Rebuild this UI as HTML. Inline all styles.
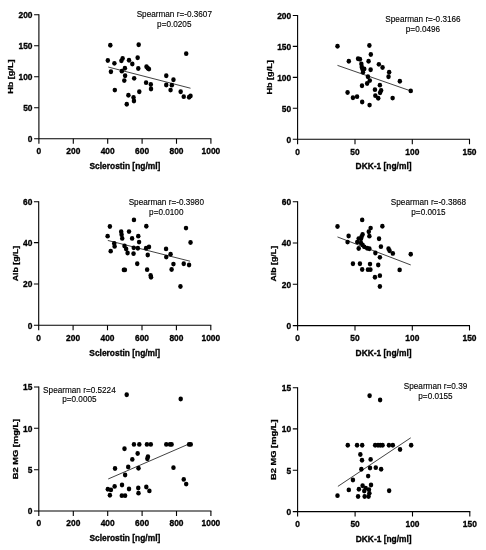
<!DOCTYPE html>
<html><head><meta charset="utf-8"><title>Scatter plots</title>
<style>
html,body{margin:0;padding:0;background:#fff;}
svg{display:block}
.t{font-family:"Liberation Sans",Arial,sans-serif;font-weight:bold;font-size:8.4px;fill:#000;stroke:#000;stroke-width:0.3px}
.a{font-family:"Liberation Sans",Arial,sans-serif;font-size:8.2px;fill:#000;stroke:#000;stroke-width:0.12px}
ellipse{fill:#000}
</style></head><body>
<svg width="486" height="550" viewBox="0 0 486 550">
<rect width="486" height="550" fill="#fff"/>
<path d="M38.90 14.20V139.20M38.40 138.70H211.40" stroke="#000" stroke-width="1.1" fill="none"/>
<text class="t" text-anchor="end" transform="translate(32.50 18.10) scale(1,1.17)">200</text>
<text class="t" text-anchor="end" transform="translate(32.50 49.10) scale(1,1.17)">150</text>
<text class="t" text-anchor="end" transform="translate(32.50 80.10) scale(1,1.17)">100</text>
<text class="t" text-anchor="end" transform="translate(32.50 111.10) scale(1,1.17)">50</text>
<text class="t" text-anchor="end" transform="translate(32.50 142.10) scale(1,1.17)">0</text>
<text class="t" text-anchor="middle" transform="translate(38.90 153.70) scale(1,1.17)">0</text>
<text class="t" text-anchor="middle" transform="translate(73.30 153.70) scale(1,1.17)">200</text>
<text class="t" text-anchor="middle" transform="translate(107.70 153.70) scale(1,1.17)">400</text>
<text class="t" text-anchor="middle" transform="translate(142.10 153.70) scale(1,1.17)">600</text>
<text class="t" text-anchor="middle" transform="translate(176.50 153.70) scale(1,1.17)">800</text>
<text class="t" text-anchor="middle" transform="translate(210.90 153.70) scale(1,1.17)">1000</text>
<path d="M34.10 14.70H38.90M34.10 45.70H38.90M34.10 76.70H38.90M34.10 107.70H38.90M34.10 138.70H38.90M38.90 138.70V143.70M73.30 138.70V143.70M107.70 138.70V143.70M142.10 138.70V143.70M176.50 138.70V143.70M210.90 138.70V143.70" stroke="#000" stroke-width="1.1" fill="none"/>
<text class="t" text-anchor="middle" transform="translate(12.80 76.70) scale(0.95,1.085) rotate(-90)">Hb [g/L]</text>
<text class="t" text-anchor="middle" transform="translate(124.90 168.70) scale(1,1.17)">Sclerostin [ng/ml]</text>
<line x1="108.23" y1="67.04" x2="190.53" y2="88.23" stroke="#111" stroke-width="0.8"/>
<ellipse cx="110.29" cy="45.23" rx="2.25" ry="2.45"/><ellipse cx="138.68" cy="44.81" rx="2.25" ry="2.45"/><ellipse cx="186.21" cy="53.66" rx="2.25" ry="2.45"/><ellipse cx="107.82" cy="60.45" rx="2.25" ry="2.45"/><ellipse cx="114.40" cy="63.33" rx="2.25" ry="2.45"/><ellipse cx="121.40" cy="60.86" rx="2.25" ry="2.45"/><ellipse cx="122.63" cy="58.40" rx="2.25" ry="2.45"/><ellipse cx="129.01" cy="60.25" rx="2.25" ry="2.45"/><ellipse cx="132.30" cy="63.95" rx="2.25" ry="2.45"/><ellipse cx="137.65" cy="57.78" rx="2.25" ry="2.45"/><ellipse cx="138.27" cy="68.48" rx="2.25" ry="2.45"/><ellipse cx="124.90" cy="68.27" rx="2.25" ry="2.45"/><ellipse cx="121.81" cy="71.15" rx="2.25" ry="2.45"/><ellipse cx="110.91" cy="71.77" rx="2.25" ry="2.45"/><ellipse cx="125.10" cy="75.68" rx="2.25" ry="2.45"/><ellipse cx="124.28" cy="80.62" rx="2.25" ry="2.45"/><ellipse cx="134.16" cy="78.35" rx="2.25" ry="2.45"/><ellipse cx="146.50" cy="66.63" rx="2.25" ry="2.45"/><ellipse cx="147.74" cy="68.27" rx="2.25" ry="2.45"/><ellipse cx="148.97" cy="69.09" rx="2.25" ry="2.45"/><ellipse cx="146.09" cy="82.67" rx="2.25" ry="2.45"/><ellipse cx="150.82" cy="84.53" rx="2.25" ry="2.45"/><ellipse cx="151.03" cy="89.05" rx="2.25" ry="2.45"/><ellipse cx="166.26" cy="75.68" rx="2.25" ry="2.45"/><ellipse cx="173.46" cy="79.79" rx="2.25" ry="2.45"/><ellipse cx="166.26" cy="84.94" rx="2.25" ry="2.45"/><ellipse cx="171.81" cy="85.14" rx="2.25" ry="2.45"/><ellipse cx="170.58" cy="90.08" rx="2.25" ry="2.45"/><ellipse cx="114.81" cy="90.08" rx="2.25" ry="2.45"/><ellipse cx="139.30" cy="91.73" rx="2.25" ry="2.45"/><ellipse cx="128.40" cy="95.23" rx="2.25" ry="2.45"/><ellipse cx="133.54" cy="97.49" rx="2.25" ry="2.45"/><ellipse cx="133.95" cy="100.99" rx="2.25" ry="2.45"/><ellipse cx="126.75" cy="104.28" rx="2.25" ry="2.45"/><ellipse cx="180.66" cy="91.73" rx="2.25" ry="2.45"/><ellipse cx="183.74" cy="96.67" rx="2.25" ry="2.45"/><ellipse cx="189.09" cy="97.28" rx="2.25" ry="2.45"/><ellipse cx="190.53" cy="96.05" rx="2.25" ry="2.45"/>
<text class="a" text-anchor="middle" transform="translate(174.30 17.25) scale(1,1.17)">Spearman r=-0.3607</text>
<text class="a" text-anchor="middle" transform="translate(174.30 27.10) scale(1,1.17)">p=0.0205</text>
<path d="M297.60 15.00V139.80M297.10 139.30H470.00" stroke="#000" stroke-width="1.1" fill="none"/>
<text class="t" text-anchor="end" transform="translate(291.20 18.90) scale(1,1.17)">200</text>
<text class="t" text-anchor="end" transform="translate(291.20 49.80) scale(1,1.17)">150</text>
<text class="t" text-anchor="end" transform="translate(291.20 80.80) scale(1,1.17)">100</text>
<text class="t" text-anchor="end" transform="translate(291.20 111.70) scale(1,1.17)">50</text>
<text class="t" text-anchor="end" transform="translate(291.20 142.70) scale(1,1.17)">0</text>
<text class="t" text-anchor="middle" transform="translate(297.60 154.80) scale(1,1.17)">0</text>
<text class="t" text-anchor="middle" transform="translate(355.00 154.80) scale(1,1.17)">50</text>
<text class="t" text-anchor="middle" transform="translate(412.30 154.80) scale(1,1.17)">100</text>
<text class="t" text-anchor="middle" transform="translate(469.50 154.80) scale(1,1.17)">150</text>
<path d="M292.80 15.50H297.60M292.80 46.40H297.60M292.80 77.40H297.60M292.80 108.30H297.60M292.80 139.30H297.60M297.60 139.30V144.30M355.00 139.30V144.30M412.30 139.30V144.30M469.50 139.30V144.30" stroke="#000" stroke-width="1.1" fill="none"/>
<text class="t" text-anchor="middle" transform="translate(272.00 77.40) scale(0.95,1.085) rotate(-90)">Hb [g/L]</text>
<text class="t" text-anchor="middle" transform="translate(383.55 169.20) scale(1,1.17)">DKK-1 [ng/ml]</text>
<line x1="337.49" y1="65.39" x2="410.74" y2="90.91" stroke="#111" stroke-width="0.8"/>
<ellipse cx="337.49" cy="46.26" rx="2.25" ry="2.45"/><ellipse cx="369.38" cy="45.43" rx="2.25" ry="2.45"/><ellipse cx="370.82" cy="54.49" rx="2.25" ry="2.45"/><ellipse cx="348.81" cy="61.28" rx="2.25" ry="2.45"/><ellipse cx="358.07" cy="58.81" rx="2.25" ry="2.45"/><ellipse cx="359.92" cy="59.22" rx="2.25" ry="2.45"/><ellipse cx="368.56" cy="61.28" rx="2.25" ry="2.45"/><ellipse cx="361.36" cy="63.95" rx="2.25" ry="2.45"/><ellipse cx="361.77" cy="67.04" rx="2.25" ry="2.45"/><ellipse cx="362.39" cy="69.09" rx="2.25" ry="2.45"/><ellipse cx="364.24" cy="68.89" rx="2.25" ry="2.45"/><ellipse cx="363.00" cy="72.18" rx="2.25" ry="2.45"/><ellipse cx="370.62" cy="69.71" rx="2.25" ry="2.45"/><ellipse cx="378.85" cy="64.36" rx="2.25" ry="2.45"/><ellipse cx="382.55" cy="67.45" rx="2.25" ry="2.45"/><ellipse cx="389.14" cy="72.18" rx="2.25" ry="2.45"/><ellipse cx="388.52" cy="76.71" rx="2.25" ry="2.45"/><ellipse cx="367.94" cy="76.71" rx="2.25" ry="2.45"/><ellipse cx="369.79" cy="80.62" rx="2.25" ry="2.45"/><ellipse cx="367.12" cy="83.50" rx="2.25" ry="2.45"/><ellipse cx="361.98" cy="85.76" rx="2.25" ry="2.45"/><ellipse cx="399.84" cy="81.23" rx="2.25" ry="2.45"/><ellipse cx="410.74" cy="90.91" rx="2.25" ry="2.45"/><ellipse cx="379.88" cy="85.14" rx="2.25" ry="2.45"/><ellipse cx="374.94" cy="89.67" rx="2.25" ry="2.45"/><ellipse cx="381.11" cy="90.49" rx="2.25" ry="2.45"/><ellipse cx="380.08" cy="92.76" rx="2.25" ry="2.45"/><ellipse cx="375.35" cy="95.64" rx="2.25" ry="2.45"/><ellipse cx="378.23" cy="98.31" rx="2.25" ry="2.45"/><ellipse cx="392.63" cy="98.11" rx="2.25" ry="2.45"/><ellipse cx="347.57" cy="92.55" rx="2.25" ry="2.45"/><ellipse cx="352.92" cy="97.70" rx="2.25" ry="2.45"/><ellipse cx="357.04" cy="96.67" rx="2.25" ry="2.45"/><ellipse cx="362.18" cy="102.02" rx="2.25" ry="2.45"/><ellipse cx="369.59" cy="105.10" rx="2.25" ry="2.45"/>
<text class="a" text-anchor="middle" transform="translate(423.00 21.75) scale(1,1.17)">Spearman r=-0.3166</text>
<text class="a" text-anchor="middle" transform="translate(423.00 31.60) scale(1,1.17)">p=0.0496</text>
<path d="M38.70 201.30V325.80M38.20 325.30H211.30" stroke="#000" stroke-width="1.1" fill="none"/>
<text class="t" text-anchor="end" transform="translate(32.30 205.20) scale(1,1.17)">60</text>
<text class="t" text-anchor="end" transform="translate(32.30 246.00) scale(1,1.17)">40</text>
<text class="t" text-anchor="end" transform="translate(32.30 287.40) scale(1,1.17)">20</text>
<text class="t" text-anchor="end" transform="translate(32.30 328.70) scale(1,1.17)">0</text>
<text class="t" text-anchor="middle" transform="translate(38.70 340.80) scale(1,1.17)">0</text>
<text class="t" text-anchor="middle" transform="translate(73.10 340.80) scale(1,1.17)">200</text>
<text class="t" text-anchor="middle" transform="translate(107.50 340.80) scale(1,1.17)">400</text>
<text class="t" text-anchor="middle" transform="translate(142.00 340.80) scale(1,1.17)">600</text>
<text class="t" text-anchor="middle" transform="translate(176.40 340.80) scale(1,1.17)">800</text>
<text class="t" text-anchor="middle" transform="translate(210.80 340.80) scale(1,1.17)">1000</text>
<path d="M33.90 201.80H38.70M33.90 242.60H38.70M33.90 284.00H38.70M33.90 325.30H38.70M38.70 325.30V330.30M73.10 325.30V330.30M107.50 325.30V330.30M142.00 325.30V330.30M176.40 325.30V330.30M210.80 325.30V330.30" stroke="#000" stroke-width="1.1" fill="none"/>
<text class="t" text-anchor="middle" transform="translate(17.60 263.55) scale(0.95,1.045) rotate(-90)">Alb [g/L]</text>
<text class="t" text-anchor="middle" transform="translate(124.75 355.70) scale(1,1.17)">Sclerostin [ng/ml]</text>
<line x1="107.82" y1="240.45" x2="190.12" y2="261.23" stroke="#111" stroke-width="0.8"/>
<ellipse cx="133.95" cy="219.88" rx="2.25" ry="2.45"/><ellipse cx="109.88" cy="226.46" rx="2.25" ry="2.45"/><ellipse cx="146.30" cy="226.26" rx="2.25" ry="2.45"/><ellipse cx="186.01" cy="228.11" rx="2.25" ry="2.45"/><ellipse cx="107.61" cy="236.13" rx="2.25" ry="2.45"/><ellipse cx="121.19" cy="231.81" rx="2.25" ry="2.45"/><ellipse cx="121.60" cy="234.69" rx="2.25" ry="2.45"/><ellipse cx="129.01" cy="231.60" rx="2.25" ry="2.45"/><ellipse cx="122.22" cy="238.40" rx="2.25" ry="2.45"/><ellipse cx="132.10" cy="238.40" rx="2.25" ry="2.45"/><ellipse cx="138.27" cy="236.13" rx="2.25" ry="2.45"/><ellipse cx="139.09" cy="242.10" rx="2.25" ry="2.45"/><ellipse cx="190.53" cy="242.51" rx="2.25" ry="2.45"/><ellipse cx="114.20" cy="243.54" rx="2.25" ry="2.45"/><ellipse cx="114.61" cy="246.42" rx="2.25" ry="2.45"/><ellipse cx="124.49" cy="246.01" rx="2.25" ry="2.45"/><ellipse cx="126.13" cy="248.89" rx="2.25" ry="2.45"/><ellipse cx="110.70" cy="251.15" rx="2.25" ry="2.45"/><ellipse cx="127.57" cy="253.00" rx="2.25" ry="2.45"/><ellipse cx="133.74" cy="247.86" rx="2.25" ry="2.45"/><ellipse cx="133.54" cy="253.62" rx="2.25" ry="2.45"/><ellipse cx="137.86" cy="248.27" rx="2.25" ry="2.45"/><ellipse cx="146.09" cy="248.27" rx="2.25" ry="2.45"/><ellipse cx="148.97" cy="247.04" rx="2.25" ry="2.45"/><ellipse cx="147.74" cy="255.06" rx="2.25" ry="2.45"/><ellipse cx="166.05" cy="248.89" rx="2.25" ry="2.45"/><ellipse cx="170.58" cy="254.24" rx="2.25" ry="2.45"/><ellipse cx="166.26" cy="257.12" rx="2.25" ry="2.45"/><ellipse cx="137.24" cy="263.70" rx="2.25" ry="2.45"/><ellipse cx="173.46" cy="264.12" rx="2.25" ry="2.45"/><ellipse cx="183.74" cy="263.70" rx="2.25" ry="2.45"/><ellipse cx="189.09" cy="264.94" rx="2.25" ry="2.45"/><ellipse cx="123.87" cy="269.88" rx="2.25" ry="2.45"/><ellipse cx="124.90" cy="269.88" rx="2.25" ry="2.45"/><ellipse cx="147.12" cy="269.67" rx="2.25" ry="2.45"/><ellipse cx="171.60" cy="269.47" rx="2.25" ry="2.45"/><ellipse cx="150.62" cy="275.43" rx="2.25" ry="2.45"/><ellipse cx="151.03" cy="277.28" rx="2.25" ry="2.45"/><ellipse cx="180.45" cy="286.54" rx="2.25" ry="2.45"/>
<text class="a" text-anchor="middle" transform="translate(166.30 205.30) scale(1,1.17)">Spearman r=-0.3980</text>
<text class="a" text-anchor="middle" transform="translate(166.30 215.15) scale(1,1.17)">p=0.0100</text>
<path d="M297.60 201.30V326.10M297.10 325.60H470.00" stroke="#000" stroke-width="1.1" fill="none"/>
<text class="t" text-anchor="end" transform="translate(291.20 205.20) scale(1,1.17)">60</text>
<text class="t" text-anchor="end" transform="translate(291.20 246.40) scale(1,1.17)">40</text>
<text class="t" text-anchor="end" transform="translate(291.20 287.70) scale(1,1.17)">20</text>
<text class="t" text-anchor="end" transform="translate(291.20 329.00) scale(1,1.17)">0</text>
<text class="t" text-anchor="middle" transform="translate(297.60 340.80) scale(1,1.17)">0</text>
<text class="t" text-anchor="middle" transform="translate(355.00 340.80) scale(1,1.17)">50</text>
<text class="t" text-anchor="middle" transform="translate(412.30 340.80) scale(1,1.17)">100</text>
<text class="t" text-anchor="middle" transform="translate(469.50 340.80) scale(1,1.17)">150</text>
<path d="M292.80 201.80H297.60M292.80 243.00H297.60M292.80 284.30H297.60M292.80 325.60H297.60M297.60 325.60V330.60M355.00 325.60V330.60M412.30 325.60V330.60M469.50 325.60V330.60" stroke="#000" stroke-width="1.1" fill="none"/>
<text class="t" text-anchor="middle" transform="translate(276.40 263.70) scale(0.95,1.045) rotate(-90)">Alb [g/L]</text>
<text class="t" text-anchor="middle" transform="translate(383.55 355.70) scale(1,1.17)">DKK-1 [ng/ml]</text>
<line x1="337.49" y1="236.95" x2="410.74" y2="264.94" stroke="#111" stroke-width="0.8"/>
<ellipse cx="362.18" cy="219.88" rx="2.25" ry="2.45"/><ellipse cx="337.49" cy="226.46" rx="2.25" ry="2.45"/><ellipse cx="382.35" cy="226.26" rx="2.25" ry="2.45"/><ellipse cx="370.62" cy="228.11" rx="2.25" ry="2.45"/><ellipse cx="368.77" cy="231.81" rx="2.25" ry="2.45"/><ellipse cx="362.59" cy="234.49" rx="2.25" ry="2.45"/><ellipse cx="369.38" cy="236.13" rx="2.25" ry="2.45"/><ellipse cx="348.60" cy="235.93" rx="2.25" ry="2.45"/><ellipse cx="361.56" cy="236.75" rx="2.25" ry="2.45"/><ellipse cx="358.68" cy="238.60" rx="2.25" ry="2.45"/><ellipse cx="379.05" cy="238.81" rx="2.25" ry="2.45"/><ellipse cx="347.57" cy="242.10" rx="2.25" ry="2.45"/><ellipse cx="357.24" cy="242.10" rx="2.25" ry="2.45"/><ellipse cx="360.95" cy="242.92" rx="2.25" ry="2.45"/><ellipse cx="362.59" cy="244.98" rx="2.25" ry="2.45"/><ellipse cx="364.24" cy="246.83" rx="2.25" ry="2.45"/><ellipse cx="358.68" cy="248.48" rx="2.25" ry="2.45"/><ellipse cx="367.12" cy="248.27" rx="2.25" ry="2.45"/><ellipse cx="369.38" cy="248.68" rx="2.25" ry="2.45"/><ellipse cx="380.91" cy="246.63" rx="2.25" ry="2.45"/><ellipse cx="388.52" cy="248.68" rx="2.25" ry="2.45"/><ellipse cx="389.55" cy="250.74" rx="2.25" ry="2.45"/><ellipse cx="392.84" cy="253.42" rx="2.25" ry="2.45"/><ellipse cx="375.35" cy="253.00" rx="2.25" ry="2.45"/><ellipse cx="379.88" cy="257.33" rx="2.25" ry="2.45"/><ellipse cx="410.74" cy="254.24" rx="2.25" ry="2.45"/><ellipse cx="352.92" cy="263.70" rx="2.25" ry="2.45"/><ellipse cx="359.92" cy="263.70" rx="2.25" ry="2.45"/><ellipse cx="370.00" cy="264.12" rx="2.25" ry="2.45"/><ellipse cx="378.23" cy="264.94" rx="2.25" ry="2.45"/><ellipse cx="362.18" cy="269.47" rx="2.25" ry="2.45"/><ellipse cx="367.94" cy="269.67" rx="2.25" ry="2.45"/><ellipse cx="370.41" cy="269.67" rx="2.25" ry="2.45"/><ellipse cx="399.63" cy="269.88" rx="2.25" ry="2.45"/><ellipse cx="374.94" cy="277.28" rx="2.25" ry="2.45"/><ellipse cx="379.88" cy="275.64" rx="2.25" ry="2.45"/><ellipse cx="379.88" cy="286.54" rx="2.25" ry="2.45"/><ellipse cx="361.01" cy="238.81" rx="2.25" ry="2.45"/>
<text class="a" text-anchor="middle" transform="translate(428.50 205.15) scale(1,1.17)">Spearman r=-0.3868</text>
<text class="a" text-anchor="middle" transform="translate(428.50 215.00) scale(1,1.17)">p=0.0015</text>
<path d="M38.80 386.50V511.50M38.30 511.00H211.40" stroke="#000" stroke-width="1.1" fill="none"/>
<text class="t" text-anchor="end" transform="translate(32.40 390.40) scale(1,1.17)">15</text>
<text class="t" text-anchor="end" transform="translate(32.40 431.70) scale(1,1.17)">10</text>
<text class="t" text-anchor="end" transform="translate(32.40 473.10) scale(1,1.17)">5</text>
<text class="t" text-anchor="end" transform="translate(32.40 514.40) scale(1,1.17)">0</text>
<text class="t" text-anchor="middle" transform="translate(38.80 525.60) scale(1,1.17)">0</text>
<text class="t" text-anchor="middle" transform="translate(73.30 525.60) scale(1,1.17)">200</text>
<text class="t" text-anchor="middle" transform="translate(107.70 525.60) scale(1,1.17)">400</text>
<text class="t" text-anchor="middle" transform="translate(142.10 525.60) scale(1,1.17)">600</text>
<text class="t" text-anchor="middle" transform="translate(176.50 525.60) scale(1,1.17)">800</text>
<text class="t" text-anchor="middle" transform="translate(210.90 525.60) scale(1,1.17)">1000</text>
<path d="M34.00 387.00H38.80M34.00 428.30H38.80M34.00 469.70H38.80M34.00 511.00H38.80M38.80 511.00V516.00M73.30 511.00V516.00M107.70 511.00V516.00M142.10 511.00V516.00M176.50 511.00V516.00M210.90 511.00V516.00" stroke="#000" stroke-width="1.1" fill="none"/>
<text class="t" text-anchor="middle" transform="translate(17.60 449.00) scale(0.95,1.108) rotate(-90)">B2 MG [mg/L]</text>
<text class="t" text-anchor="middle" transform="translate(124.85 541.20) scale(1,1.17)">Sclerostin [ng/ml]</text>
<line x1="108.23" y1="478.97" x2="188.89" y2="443.99" stroke="#111" stroke-width="0.8"/>
<ellipse cx="126.70" cy="394.70" rx="2.25" ry="2.45"/><ellipse cx="180.70" cy="399.00" rx="2.25" ry="2.45"/><ellipse cx="133.95" cy="444.40" rx="2.25" ry="2.45"/><ellipse cx="139.30" cy="444.40" rx="2.25" ry="2.45"/><ellipse cx="146.91" cy="444.40" rx="2.25" ry="2.45"/><ellipse cx="150.82" cy="444.40" rx="2.25" ry="2.45"/><ellipse cx="166.26" cy="444.40" rx="2.25" ry="2.45"/><ellipse cx="169.96" cy="444.40" rx="2.25" ry="2.45"/><ellipse cx="171.60" cy="444.40" rx="2.25" ry="2.45"/><ellipse cx="189.09" cy="444.40" rx="2.25" ry="2.45"/><ellipse cx="190.74" cy="444.40" rx="2.25" ry="2.45"/><ellipse cx="124.49" cy="448.72" rx="2.25" ry="2.45"/><ellipse cx="137.65" cy="453.46" rx="2.25" ry="2.45"/><ellipse cx="147.94" cy="456.75" rx="2.25" ry="2.45"/><ellipse cx="147.33" cy="458.81" rx="2.25" ry="2.45"/><ellipse cx="132.30" cy="459.42" rx="2.25" ry="2.45"/><ellipse cx="115.02" cy="468.48" rx="2.25" ry="2.45"/><ellipse cx="128.19" cy="467.04" rx="2.25" ry="2.45"/><ellipse cx="138.48" cy="468.27" rx="2.25" ry="2.45"/><ellipse cx="173.46" cy="467.65" rx="2.25" ry="2.45"/><ellipse cx="125.10" cy="475.06" rx="2.25" ry="2.45"/><ellipse cx="183.74" cy="479.38" rx="2.25" ry="2.45"/><ellipse cx="186.21" cy="484.12" rx="2.25" ry="2.45"/><ellipse cx="122.02" cy="484.94" rx="2.25" ry="2.45"/><ellipse cx="114.61" cy="486.38" rx="2.25" ry="2.45"/><ellipse cx="107.82" cy="489.26" rx="2.25" ry="2.45"/><ellipse cx="110.91" cy="489.88" rx="2.25" ry="2.45"/><ellipse cx="129.01" cy="489.05" rx="2.25" ry="2.45"/><ellipse cx="138.27" cy="488.02" rx="2.25" ry="2.45"/><ellipse cx="146.30" cy="487.00" rx="2.25" ry="2.45"/><ellipse cx="149.38" cy="490.91" rx="2.25" ry="2.45"/><ellipse cx="138.48" cy="493.17" rx="2.25" ry="2.45"/><ellipse cx="109.88" cy="495.23" rx="2.25" ry="2.45"/><ellipse cx="121.81" cy="495.64" rx="2.25" ry="2.45"/><ellipse cx="125.10" cy="495.64" rx="2.25" ry="2.45"/>
<text class="a" text-anchor="middle" transform="translate(79.40 392.55) scale(1,1.17)">Spearman r=0.5224</text>
<text class="a" text-anchor="middle" transform="translate(79.40 402.40) scale(1,1.17)">p=0.0005</text>
<path d="M297.60 387.30V512.10M297.10 511.60H470.30" stroke="#000" stroke-width="1.1" fill="none"/>
<text class="t" text-anchor="end" transform="translate(291.20 391.20) scale(1,1.17)">15</text>
<text class="t" text-anchor="end" transform="translate(291.20 432.30) scale(1,1.17)">10</text>
<text class="t" text-anchor="end" transform="translate(291.20 473.70) scale(1,1.17)">5</text>
<text class="t" text-anchor="end" transform="translate(291.20 515.00) scale(1,1.17)">0</text>
<text class="t" text-anchor="middle" transform="translate(297.60 526.80) scale(1,1.17)">0</text>
<text class="t" text-anchor="middle" transform="translate(355.10 526.80) scale(1,1.17)">50</text>
<text class="t" text-anchor="middle" transform="translate(412.50 526.80) scale(1,1.17)">100</text>
<text class="t" text-anchor="middle" transform="translate(469.80 526.80) scale(1,1.17)">150</text>
<path d="M292.80 387.80H297.60M292.80 428.90H297.60M292.80 470.30H297.60M292.80 511.60H297.60M297.60 511.60V516.60M355.10 511.60V516.60M412.50 511.60V516.60M469.80 511.60V516.60" stroke="#000" stroke-width="1.1" fill="none"/>
<text class="t" text-anchor="middle" transform="translate(276.20 449.70) scale(0.95,1.108) rotate(-90)">B2 MG [mg/L]</text>
<text class="t" text-anchor="middle" transform="translate(383.70 541.80) scale(1,1.17)">DKK-1 [ng/ml]</text>
<line x1="337.90" y1="486.38" x2="410.74" y2="437.82" stroke="#111" stroke-width="0.8"/>
<ellipse cx="369.60" cy="395.70" rx="2.25" ry="2.45"/><ellipse cx="380.10" cy="400.00" rx="2.25" ry="2.45"/><ellipse cx="347.78" cy="445.23" rx="2.25" ry="2.45"/><ellipse cx="357.04" cy="445.23" rx="2.25" ry="2.45"/><ellipse cx="362.18" cy="445.23" rx="2.25" ry="2.45"/><ellipse cx="375.14" cy="445.23" rx="2.25" ry="2.45"/><ellipse cx="378.02" cy="445.23" rx="2.25" ry="2.45"/><ellipse cx="380.29" cy="445.23" rx="2.25" ry="2.45"/><ellipse cx="382.55" cy="445.23" rx="2.25" ry="2.45"/><ellipse cx="388.93" cy="445.23" rx="2.25" ry="2.45"/><ellipse cx="392.84" cy="445.23" rx="2.25" ry="2.45"/><ellipse cx="411.15" cy="445.23" rx="2.25" ry="2.45"/><ellipse cx="400.04" cy="449.55" rx="2.25" ry="2.45"/><ellipse cx="360.33" cy="454.49" rx="2.25" ry="2.45"/><ellipse cx="361.98" cy="460.25" rx="2.25" ry="2.45"/><ellipse cx="370.62" cy="459.42" rx="2.25" ry="2.45"/><ellipse cx="361.36" cy="469.30" rx="2.25" ry="2.45"/><ellipse cx="370.00" cy="468.07" rx="2.25" ry="2.45"/><ellipse cx="375.76" cy="467.65" rx="2.25" ry="2.45"/><ellipse cx="381.11" cy="469.30" rx="2.25" ry="2.45"/><ellipse cx="368.15" cy="476.09" rx="2.25" ry="2.45"/><ellipse cx="352.92" cy="480.00" rx="2.25" ry="2.45"/><ellipse cx="371.03" cy="484.94" rx="2.25" ry="2.45"/><ellipse cx="362.59" cy="485.76" rx="2.25" ry="2.45"/><ellipse cx="358.89" cy="489.26" rx="2.25" ry="2.45"/><ellipse cx="348.81" cy="489.88" rx="2.25" ry="2.45"/><ellipse cx="365.68" cy="488.23" rx="2.25" ry="2.45"/><ellipse cx="368.97" cy="489.67" rx="2.25" ry="2.45"/><ellipse cx="364.24" cy="491.11" rx="2.25" ry="2.45"/><ellipse cx="369.38" cy="493.37" rx="2.25" ry="2.45"/><ellipse cx="389.14" cy="490.70" rx="2.25" ry="2.45"/><ellipse cx="337.49" cy="495.64" rx="2.25" ry="2.45"/><ellipse cx="358.07" cy="496.46" rx="2.25" ry="2.45"/><ellipse cx="364.65" cy="496.46" rx="2.25" ry="2.45"/><ellipse cx="368.56" cy="496.46" rx="2.25" ry="2.45"/>
<text class="a" text-anchor="middle" transform="translate(435.50 389.15) scale(1,1.17)">Spearman r=0.39</text>
<text class="a" text-anchor="middle" transform="translate(435.50 399.00) scale(1,1.17)">p=0.0155</text>
</svg>
</body></html>
